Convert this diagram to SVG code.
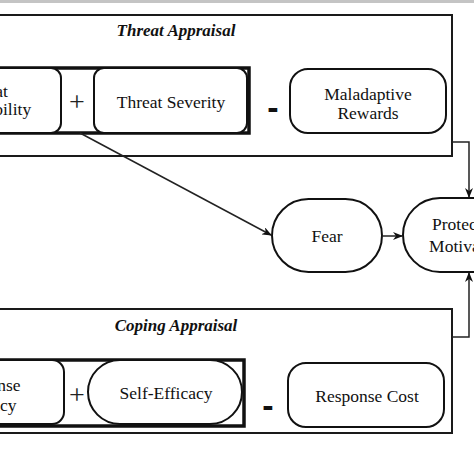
<svg xmlns="http://www.w3.org/2000/svg" width="474" height="474" viewBox="0 0 474 474">
<defs>
<style>
.frame{fill:#fff;stroke:#1a1a1a;stroke-width:2}
.group{fill:none;stroke:#111;stroke-width:3.5}
.node{fill:#fff;stroke:#111;stroke-width:2}
.t{font-family:"Liberation Serif","Times New Roman",serif;font-size:17.5px;fill:#111;text-anchor:middle}
.title{font-family:"Liberation Serif","Times New Roman",serif;font-size:17px;font-weight:bold;font-style:italic;fill:#111;text-anchor:middle}
.plus{font-family:"Liberation Serif","Times New Roman",serif;font-size:28px;fill:#222;text-anchor:middle}
.minus{font-family:"Liberation Sans",Arial,sans-serif;font-size:34px;font-weight:bold;fill:#111;text-anchor:middle}
.conn{fill:none;stroke:#222;stroke-width:1.5}
</style>
<marker id="arr" viewBox="0 0 10 8" refX="9" refY="4" markerWidth="10" markerHeight="8" markerUnits="userSpaceOnUse" orient="auto">
<path d="M0,0 L10,4 L0,8 L3,4 z" fill="#111"/>
</marker>
</defs>
<rect x="0" y="0" width="474" height="474" fill="#fff"/>
<rect x="0" y="0" width="474" height="3" fill="#c4c4c4"/>

<g id="threat-appraisal">
<rect class="frame" x="-10" y="15" width="462" height="141"/>
<text class="title" x="176" y="36">Threat Appraisal</text>
<rect class="group" x="-10" y="68" width="259" height="65"/>
</g>
<g id="threat-vulnerability">
<rect class="node" x="-90" y="68" width="151" height="65" rx="10"/>
<text class="t" x="-15" y="97">Threat</text>
<text class="t" x="-15" y="115">Vulnerability</text>
</g>
<text class="plus" x="77" y="111">+</text>
<g id="threat-severity">
<rect class="node" x="94" y="68" width="153" height="65" rx="10"/>
<text class="t" x="171" y="108">Threat Severity</text>
</g>
<text class="minus" x="273" y="119">-</text>
<g id="maladaptive-rewards">
<rect class="node" x="290" y="69" width="156" height="64" rx="18"/>
<text class="t" x="368" y="100">Maladaptive</text>
<text class="t" x="368" y="119">Rewards</text>
</g>

<g id="fear">
<rect class="node" x="272" y="199" width="110" height="73" rx="36.5"/>
<text class="t" x="327" y="242">Fear</text>
</g>
<g id="protection-motivation">
<rect class="node" x="403" y="198" width="130" height="74" rx="37"/>
<text class="t" x="468" y="230">Protection</text>
<text class="t" x="468" y="252">Motivation</text>
</g>

<g id="coping-appraisal">
<rect class="frame" x="-10" y="309" width="462" height="124"/>
<text class="title" x="176" y="331">Coping Appraisal</text>
<rect class="group" x="-10" y="360" width="254" height="66"/>
</g>
<g id="response-efficacy">
<rect class="node" x="-90" y="360" width="154" height="64" rx="12"/>
<text class="t" x="-13" y="391">Response</text>
<text class="t" x="-13" y="411">Efficacy</text>
</g>
<text class="plus" x="77" y="404">+</text>
<g id="self-efficacy">
<rect class="node" x="88" y="360" width="154" height="64" rx="32"/>
<text class="t" x="166" y="399">Self-Efficacy</text>
</g>
<text class="minus" x="268" y="417">-</text>
<g id="response-cost">
<rect class="node" x="288" y="363" width="156" height="64" rx="18"/>
<text class="t" x="367" y="402">Response Cost</text>
</g>

<g id="connectors">
<path class="conn" d="M80,133 L271,235" marker-end="url(#arr)"/>
<path class="conn" d="M382,236 L402,236" marker-end="url(#arr)"/>
<path class="conn" d="M452,142 H469 V197" marker-end="url(#arr)"/>
<path class="conn" d="M452,337 H469 V273" marker-end="url(#arr)"/>
</g>
</svg>
